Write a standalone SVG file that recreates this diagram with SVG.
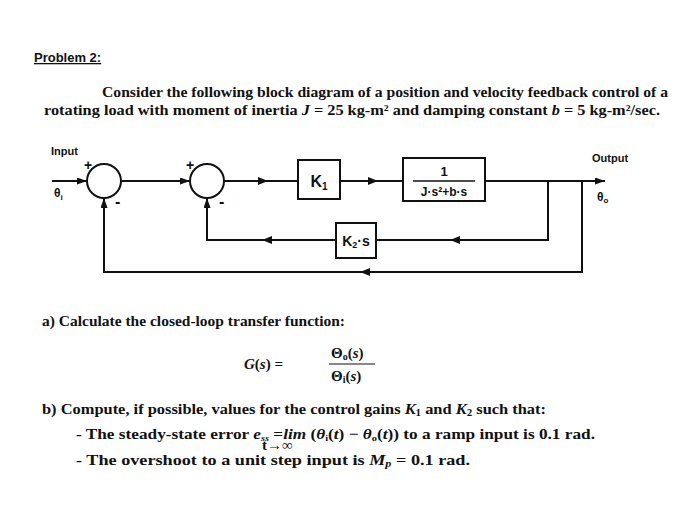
<svg xmlns="http://www.w3.org/2000/svg" width="692" height="529" viewBox="0 0 692 529">
<defs>
<marker id="e" markerWidth="10" markerHeight="7" refX="10" refY="3.5" orient="auto" markerUnits="userSpaceOnUse"><path d="M0,0 L10,3.5 L0,7 z" fill="#111"/></marker>
</defs>
<style>
.t{font-family:"Liberation Serif",serif;font-weight:bold;fill:#111;font-size:15px}
.h{font-family:"Liberation Sans",sans-serif;font-weight:bold;fill:#111}
.l{stroke:#111;stroke-width:2;fill:none}
.b{stroke:#111;stroke-width:2;fill:#fff}
</style>
<rect width="692" height="529" fill="#fff"/>
<text x="34" y="62" class="h" font-size="13" text-decoration="underline">Problem 2:</text>
<text x="102" y="97" class="t" textLength="566" lengthAdjust="spacingAndGlyphs">Consider the following block diagram of a position and velocity feedback control of a</text>
<text x="44" y="115" class="t" textLength="616" lengthAdjust="spacingAndGlyphs">rotating load with moment of inertia <tspan font-style="italic">J</tspan> = 25 kg-m² and damping constant <tspan font-style="italic">b</tspan> = 5 kg-m²/sec.</text>
<g id="connectors">
<path class="l" d="M52,181 H87" marker-end="url(#e)"/>
<path class="l" d="M121,181 H190" marker-end="url(#e)"/>
<path class="l" d="M224,181 H298"/>
<path d="M258,177 L268,181 L258,185z" fill="#111"/>
<path class="l" d="M340,181 H403"/>
<path d="M368,177 L378,181 L368,185z" fill="#111"/>
<path class="l" d="M485,181 H605" marker-end="url(#e)"/>
<path class="l" d="M548,181 V240 H376"/>
<path d="M460,236 L450,240 L460,244z" fill="#111"/>
<path class="l" d="M336,240 H207 V198" marker-end="url(#e)"/>
<path d="M272,236 L262,240 L272,244z" fill="#111"/>
<path class="l" d="M582,181 V272 H104 V198" marker-end="url(#e)"/>
<path d="M370,268 L360,272 L370,276z" fill="#111"/>
</g>
<g id="sum1"><circle cx="104" cy="181" r="17" class="b"/><text x="84" y="170" class="h" font-size="14">+</text><text x="115" y="207" class="h" font-size="16">-</text></g>
<g id="sum2"><circle cx="207" cy="181" r="17" class="b"/><text x="186" y="170" class="h" font-size="14">+</text><text x="219" y="207" class="h" font-size="16">-</text></g>
<g id="k1"><rect x="298" y="160" width="42" height="39" class="b"/><text x="319" y="187" class="h" font-size="16" text-anchor="middle">K<tspan font-size="10" dy="3">1</tspan></text></g>
<g id="plant"><rect x="403" y="158" width="82" height="43" class="b"/><text x="444" y="176" class="h" font-size="13" text-anchor="middle">1</text><line x1="413" y1="181" x2="475" y2="181" stroke="#111" stroke-width="1.5"/><text x="444" y="196" class="h" font-size="12" text-anchor="middle">J·s²+b·s</text></g>
<g id="k2"><rect x="336" y="223" width="40" height="35" class="b"/><text x="356" y="246" class="h" font-size="14" text-anchor="middle">K<tspan font-size="9" dy="2">2</tspan><tspan dy="-2">·s</tspan></text></g>
<text x="51" y="155" class="h" font-size="11">Input</text>
<text x="592" y="162" class="h" font-size="11">Output</text>
<text x="54" y="197" class="h" font-size="12">θ<tspan font-size="8" dy="3">i</tspan></text>
<text x="597" y="201" class="h" font-size="12">θ<tspan font-size="8" dy="2">o</tspan></text>
<text x="42" y="326" class="t" textLength="303" lengthAdjust="spacingAndGlyphs">a) Calculate the closed-loop transfer function:</text>
<text x="283" y="369" class="t" font-weight="normal" font-size="16" text-anchor="end"><tspan font-style="italic">G</tspan>(<tspan font-style="italic">s</tspan>) =</text>
<text x="331" y="358" class="t" font-weight="normal" font-size="16">Θ<tspan font-size="10" dy="2">o</tspan><tspan dy="-2">(</tspan><tspan font-style="italic">s</tspan>)</text>
<line x1="329" y1="364" x2="375" y2="364" stroke="#111" stroke-width="1.2"/>
<text x="331" y="381" class="t" font-weight="normal" font-size="16">Θ<tspan font-size="10" dy="2">i</tspan><tspan dy="-2">(</tspan><tspan font-style="italic">s</tspan>)</text>
<text x="42" y="414" class="t" textLength="504" lengthAdjust="spacingAndGlyphs">b) Compute, if possible, values for the control gains <tspan font-style="italic">K</tspan><tspan font-size="10" dy="2">1</tspan><tspan dy="-2"> and </tspan><tspan font-style="italic">K</tspan><tspan font-size="10" dy="2">2</tspan><tspan dy="-2"> such that:</tspan></text>
<text x="76" y="439" class="t" textLength="519" lengthAdjust="spacingAndGlyphs">- The steady-state error <tspan font-style="italic">e</tspan><tspan font-size="9" dy="2" font-style="italic">ss</tspan><tspan dy="-2"> =</tspan><tspan font-style="italic">lim</tspan> (<tspan font-style="italic">θ</tspan><tspan font-size="9" dy="2">i</tspan><tspan dy="-2">(</tspan><tspan font-style="italic">t</tspan>) − <tspan font-style="italic">θ</tspan><tspan font-size="9" dy="2">o</tspan><tspan dy="-2">(</tspan><tspan font-style="italic">t</tspan>)) to a ramp input is 0.1 rad.</text>
<text x="262" y="450" class="t" font-size="6">t→∞</text>
<text x="76" y="465" class="t" textLength="394" lengthAdjust="spacingAndGlyphs">- The overshoot to a unit step input is <tspan font-style="italic">M</tspan><tspan font-size="10" dy="2" font-style="italic">p</tspan><tspan dy="-2"> = 0.1 rad.</tspan></text>
</svg>
